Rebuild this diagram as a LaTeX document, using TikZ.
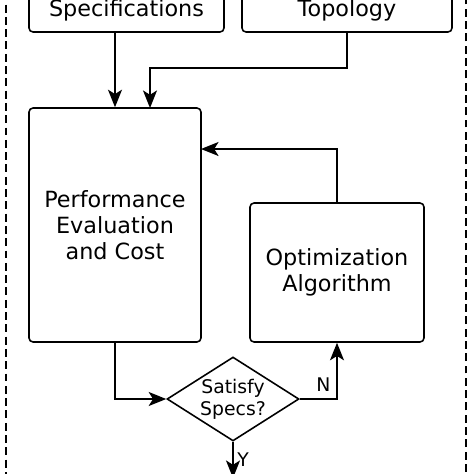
\documentclass[tikz,border=0pt]{standalone}
\usepackage{fontspec}
\setmainfont{DejaVu Sans}
\usetikzlibrary{arrows.meta,shapes.geometric}

\tikzset{
  block/.style={draw,rounded corners=0.08cm,line width=0.9pt,align=center,
    font=\fontsize{12.7}{14.8}\selectfont,inner sep=0pt},
  check/.style={draw,diamond,aspect=1.57,line width=0.9pt,align=center,inner sep=0pt,
    font=\fontsize{10.7}{12.4}\selectfont,minimum width=2.64cm,minimum height=1.68cm},
  flow/.style={line width=0.9pt,-{Stealth[length=10pt,width=8pt,inset=2.5pt]}},
  yesno/.style={font=\fontsize{10.7}{12.4}\selectfont}
}

\begin{document}
\begin{tikzpicture}[x=0.02cm,y=-0.02cm]
            \useasboundingbox (0,0) rectangle (474,474);
            \clip (0,0) rectangle (474,474);
            % outer frame
            \draw[line width=0.6pt,dash pattern=on 4.5pt off 2.5pt] (6,-20) rectangle (466,494);
            % blocks
            \node[block,minimum width=3.9cm,minimum height=0.88cm] (spec) at (126.5,10) {Specifications};
            \node[block,minimum width=4.2cm,minimum height=0.88cm] (topo) at (347,10) {Topology};
            \node[block,minimum width=3.44cm,minimum height=4.68cm] (perf) at (115,225) {Performance\\Evaluation\\and Cost};
            \node[block,minimum width=3.48cm,minimum height=2.78cm] (opt) at (337,272.5) {Optimization\\Algorithm};
            \node[check] (sat) at (233,399) {Satisfy\\Specs?};
            \coordinate (topoin) at (150,108);
            \coordinate (perfin) at (201,149);
            \coordinate (done) at (233,478);
            % connectors
            \draw[flow] (spec.south -| perf.north) -- (perf.north);
            \draw[flow] (topo.south) -- ++(0,35) -| (topoin);
            \draw[flow] (opt.north) |- (perfin);
            \draw[flow] (perf.south) |- (sat.west);
            \draw[flow] (sat.east) -| node[yesno,pos=0.63,left] {N} (opt.south);
            \draw[flow] (sat.south) -- node[yesno,pos=0.5,right,inner sep=2pt] {Y} (done);
        \end{tikzpicture}
\end{document}
